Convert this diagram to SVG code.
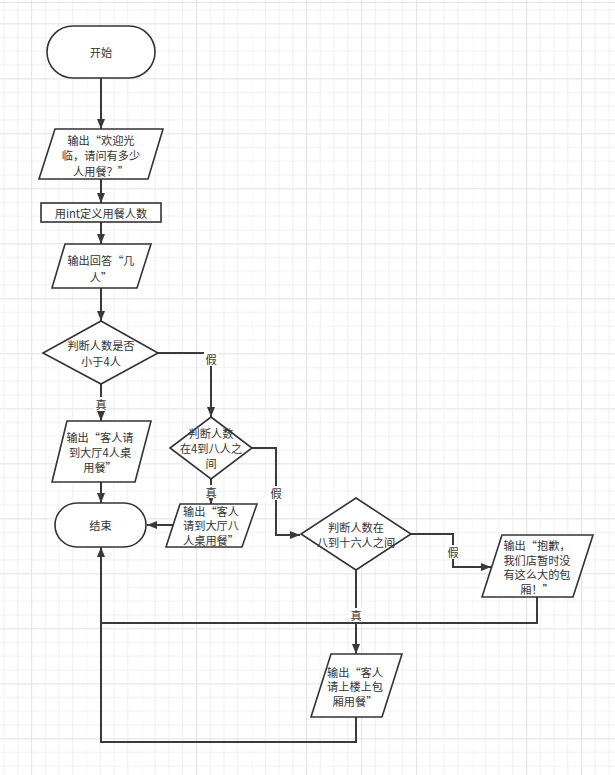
<svg xmlns="http://www.w3.org/2000/svg" width="615" height="775" viewBox="0 0 615 775">
<style>
.shape{fill:#fff;stroke:#333;stroke-width:1.6}
.conn{fill:none;stroke:#3a3a3a;stroke-width:2}
.t{font-family:"Noto Sans CJK SC","Liberation Sans",sans-serif;font-size:11.2px;fill:#333;text-anchor:middle;dominant-baseline:central}
.lblbg{fill:#fff}
</style>
<defs>
<pattern id="grid" patternUnits="userSpaceOnUse" x="31" y="23.25" width="55" height="55">
<rect x="0" y="0" width="55" height="55" fill="#fff"/>
<rect x="13.75" y="0" width="1" height="55" fill="#f1f1f1"/>
<rect x="27.5" y="0" width="1" height="55" fill="#f1f1f1"/>
<rect x="41.25" y="0" width="1" height="55" fill="#f1f1f1"/>
<rect x="0" y="13.75" width="55" height="1" fill="#f1f1f1"/>
<rect x="0" y="27.5" width="55" height="1" fill="#f1f1f1"/>
<rect x="0" y="41.25" width="55" height="1" fill="#f1f1f1"/>
<rect x="0" y="0" width="1.2" height="55" fill="#e6e6e6"/>
<rect x="0" y="0" width="55" height="1.2" fill="#e6e6e6"/>
</pattern>
<marker id="arr" markerUnits="userSpaceOnUse" markerWidth="10" markerHeight="8" refX="10" refY="4" orient="auto">
<path d="M0,0 L10,4 L0,8 z" fill="#3a3a3a"/>
</marker>
</defs>
<rect x="0" y="0" width="615" height="775" fill="url(#grid)"/>
<rect x="0" y="2" width="615" height="1" fill="#e3e3e3"/>

<g id="connectors">
<path class="conn" d="M101,78 L101,129" marker-end="url(#arr)"/>
<path class="conn" d="M101,179 L101,203" marker-end="url(#arr)"/>
<path class="conn" d="M101,222 L101,244" marker-end="url(#arr)"/>
<path class="conn" d="M101,288 L101,321" marker-end="url(#arr)"/>
<path class="conn" d="M158,353 L211,353 L211,417" marker-end="url(#arr)"/>
<path class="conn" d="M101,384 L101,421" marker-end="url(#arr)"/>
<path class="conn" d="M101,482 L101,503" marker-end="url(#arr)"/>
<path class="conn" d="M252,448 L276,448 L276,535 L300,535" marker-end="url(#arr)"/>
<path class="conn" d="M211,479 L211,504" marker-end="url(#arr)"/>
<path class="conn" d="M173,525 L147,525" marker-end="url(#arr)"/>
<path class="conn" d="M411,534 L453,534 L453,567 L491,567" marker-end="url(#arr)"/>
<path class="conn" d="M356,570 L356,654" marker-end="url(#arr)"/>
<path class="conn" d="M537,597 L537,623 L101,623 L101,547" marker-end="url(#arr)"/>
<path class="conn" d="M356,717 L356,742 L101,742 L101,623"/>
<g id="labels">
<rect class="lblbg" x="204" y="352" width="14" height="14"/>
<text class="t" x="211" y="359">假</text>
<rect class="lblbg" x="94" y="397" width="14" height="14"/>
<text class="t" x="101" y="404">真</text>
<rect class="lblbg" x="269" y="486" width="14" height="14"/>
<text class="t" x="276" y="493">假</text>
<rect class="lblbg" x="204" y="485" width="14" height="13"/>
<text class="t" x="211" y="491.5">真</text>
<rect class="lblbg" x="446" y="545" width="14" height="14"/>
<text class="t" x="453" y="552">假</text>
<rect class="lblbg" x="349" y="608" width="14" height="14"/>
<text class="t" x="356" y="615">真</text>
</g>
</g>

<g id="start">
<rect class="shape" x="47" y="26" width="108" height="52" rx="26" ry="26"/>
<text class="t" x="101" y="52">开始</text>
</g>
<g id="welcome">
<polygon class="shape" points="55,129 163,129 148,179 39,179"/>
<text class="t" x="101" y="139.5">输出“欢迎光</text>
<text class="t" x="101" y="155">临，请问有多少</text>
<text class="t" x="101" y="170.5">人用餐？”</text>
</g>
<g id="define">
<rect class="shape" x="41" y="203" width="120" height="19"/>
<text class="t" x="101" y="212.5">用int定义用餐人数</text>
</g>
<g id="answer">
<polygon class="shape" points="65,244 151,244 137,288 52,288"/>
<text class="t" x="101" y="259.5">输出回答“几</text>
<text class="t" x="101" y="276.5">人”</text>
</g>
<g id="decision1">
<polygon class="shape" points="101,321 158,353 101,384 43,353"/>
<text class="t" x="101" y="345">判断人数是否</text>
<text class="t" x="101" y="360.5">小于4人</text>
</g>
<g id="out4">
<polygon class="shape" points="67,421 151,421 135,482 52,482"/>
<text class="t" x="100" y="436.5">输出“客人请</text>
<text class="t" x="100" y="451.5">到大厅4人桌</text>
<text class="t" x="100" y="466.5">用餐”</text>
</g>
<g id="decision2">
<polygon class="shape" points="211,417 252,448 211,479 170,448"/>
<text class="t" x="211" y="433">判断人数</text>
<text class="t" x="211" y="447.5">在4到八人之</text>
<text class="t" x="211" y="462.5">间</text>
</g>
<g id="end">
<rect class="shape" x="55" y="503" width="91" height="44" rx="22" ry="22"/>
<text class="t" x="100.5" y="525">结束</text>
</g>
<g id="out8">
<polygon class="shape" points="180,504 257,504 242,547 166,547"/>
<text class="t" x="211" y="510.5">输出“客人</text>
<text class="t" x="211" y="525">请到大厅八</text>
<text class="t" x="211" y="539.5">人桌用餐”</text>
</g>
<g id="decision3">
<polygon class="shape" points="356,498 411,534 356,570 301,534"/>
<text class="t" x="356" y="527">判断人数在</text>
<text class="t" x="356" y="541.5">八到十六人之间</text>
</g>
<g id="sorry">
<polygon class="shape" points="502,535 593,535 573,597 482,597"/>
<text class="t" x="537" y="545">输出“抱歉，</text>
<text class="t" x="537" y="559.5">我们店暂时没</text>
<text class="t" x="537" y="574">有这么大的包</text>
<text class="t" x="537" y="588.5">厢！”</text>
</g>
<g id="upstairs">
<polygon class="shape" points="331,654 402,654 382,717 311,717"/>
<text class="t" x="355" y="671.5">输出“客人</text>
<text class="t" x="355" y="686">请上楼上包</text>
<text class="t" x="355" y="700.5">厢用餐”</text>
</g>
</svg>
